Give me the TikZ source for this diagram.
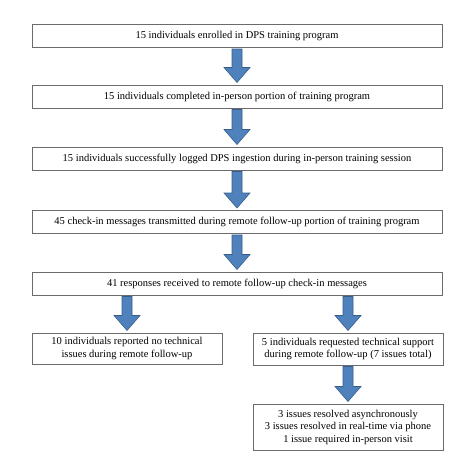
\documentclass[tikz,border=0pt]{standalone}
\usepackage{fontspec}
\setmainfont{Liberation Serif}
\usetikzlibrary{calc}
\definecolor{arrowfill}{HTML}{4F81BD}
\definecolor{arrowline}{HTML}{385D8A}
\definecolor{boxline}{HTML}{6B6B6B}
\tikzset{
  stepbox/.style={draw=boxline, line width=1pt, fill=white, inner sep=0pt,
    align=center, font=\fontsize{10.5}{12.5}\selectfont},
  wide/.style={stepbox, minimum width=410pt, minimum height=23pt},
  half/.style={stepbox, minimum width=190pt, minimum height=31pt}
}
% block arrow from node #1 down to node #2
\newcommand{\blockarrow}[2]{%
  \fill[arrowfill, draw=arrowline, line width=0.6pt, line join=miter]
    let \p1=($(#2.north |- #1.south)+(0,-1)$), \p2=($(#2.north)+(0,2)$) in
    (\x1-5pt,\y1) -- (\x1+5pt,\y1) -- (\x2+5pt,\y2+15pt) -- (\x2+13pt,\y2+15pt)
    -- (\x2,\y2) -- (\x2-13pt,\y2+15pt) -- (\x2-5pt,\y2+15pt) -- cycle;}
\begin{document}
\begin{tikzpicture}[x=1pt, y=1pt]
\useasboundingbox (0,0) rectangle (474,-474);
% main column
\node[wide] (enrolled) at (237,-36) {15 individuals enrolled in DPS training program};
\node[wide] (completed) at (237,-96.5) {15 individuals completed in-person portion of training program};
\node[wide] (logged) at (237,-158.5) {15 individuals successfully logged DPS ingestion during in-person training session};
\node[wide] (sent) at (237,-222) {45 check-in messages transmitted during remote follow-up portion of training program};
\node[wide] (replies) at (237,-283.5) {41 responses received to remote follow-up check-in messages};
% split
\node[half] (noissue) at (127,-348.5) {10 individuals reported no technical\\issues during remote follow-up};
\node[half, minimum height=32pt] (support) at (348,-349) {5 individuals requested technical support\\during remote follow-up (7 issues total)};
\node[half, minimum height=46pt] (resolved) at (348,-427) {3 issues resolved asynchronously\\3 issues resolved in real-time via phone\\1 issue required in-person visit};
% arrows
\blockarrow{enrolled}{completed}
\blockarrow{completed}{logged}
\blockarrow{logged}{sent}
\blockarrow{sent}{replies}
\blockarrow{replies}{noissue}
\blockarrow{replies}{support}
\blockarrow{support}{resolved}
\end{tikzpicture}
\end{document}
